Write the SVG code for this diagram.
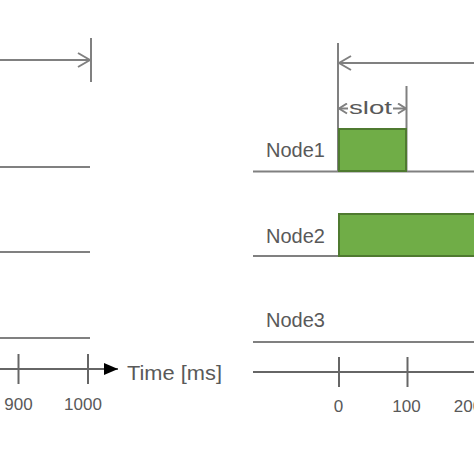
<svg xmlns="http://www.w3.org/2000/svg" width="474" height="474" viewBox="0 0 474 474">
<style>
.ln{stroke:#808080;stroke-width:2;fill:none}
.ax{stroke:#666;stroke-width:2;fill:none}
.lbl{font-family:"Liberation Sans",Arial,sans-serif;fill:#595959}
.slotbar{fill:#70ad47;stroke:#4f7a30;stroke-width:2}
</style>
<defs>
<marker id="open" viewBox="0 0 14 16" refX="13" refY="8" markerWidth="14" markerHeight="16" markerUnits="userSpaceOnUse" orient="auto-start-reverse">
<path d="M1,1 L13,8 L1,15" fill="none" stroke="#808080" stroke-width="2"/>
</marker>
<marker id="small" viewBox="0 0 10 12" refX="9" refY="6" markerWidth="10" markerHeight="12" markerUnits="userSpaceOnUse" orient="auto-start-reverse">
<path d="M1,1 L9,6 L1,11" fill="none" stroke="#808080" stroke-width="2"/>
</marker>
<marker id="fill" viewBox="0 0 14 12" refX="14" refY="6" markerWidth="14" markerHeight="12" markerUnits="userSpaceOnUse" orient="auto">
<path d="M0,0 L14,6 L0,12 Z" fill="#000"/>
</marker>
</defs>
<rect width="474" height="474" fill="#fff"/>
<g id="connectors">
<line class="ln" x1="0" y1="60" x2="90" y2="60" marker-end="url(#open)"/>
<line class="ln" x1="91" y1="38" x2="91" y2="82"/>
<line class="ln" x1="0" y1="167" x2="90" y2="167"/>
<line class="ln" x1="0" y1="252" x2="90" y2="252"/>
<line class="ln" x1="0" y1="338" x2="90" y2="338"/>
<line class="ax" x1="0" y1="369" x2="118" y2="369" marker-end="url(#fill)"/>
<line class="ax" x1="18.5" y1="354" x2="18.5" y2="384"/>
<line class="ax" x1="88" y1="354" x2="88" y2="384"/>
<line class="ln" x1="338" y1="43" x2="338" y2="171"/>
<line class="ln" x1="339" y1="63" x2="474" y2="63" marker-start="url(#open)"/>
<line class="ln" x1="406.5" y1="86" x2="406.5" y2="171"/>
<line class="ln" x1="339" y1="108.5" x2="348" y2="108.5" marker-start="url(#small)"/>
<line class="ln" x1="393" y1="108.5" x2="406" y2="108.5" marker-end="url(#small)"/>
<line class="ln" x1="253" y1="171.5" x2="474" y2="171.5"/>
<line class="ln" x1="253" y1="256" x2="474" y2="256"/>
<line class="ln" x1="253" y1="342" x2="474" y2="342"/>
<line class="ax" x1="253" y1="372" x2="474" y2="372"/>
<line class="ax" x1="339" y1="357" x2="339" y2="387"/>
<line class="ax" x1="407.5" y1="357" x2="407.5" y2="387"/>
</g>
<g id="node1">
<rect class="slotbar" x="339" y="129" width="67" height="42"/>
<text class="lbl" x="266" y="157" font-size="20">Node1</text>
</g>
<g id="slot">
<text class="lbl" x="349" y="114" font-size="19" textLength="43" lengthAdjust="spacingAndGlyphs">slot</text>
</g>
<g id="node2">
<rect class="slotbar" x="339" y="214" width="140" height="42"/>
<text class="lbl" x="266" y="242.5" font-size="20">Node2</text>
</g>
<g id="node3">
<text class="lbl" x="266" y="326.5" font-size="20">Node3</text>
</g>
<g id="axis-labels" class="lbl" font-size="17" text-anchor="middle">
<text x="18.5" y="410">900</text>
<text x="83" y="410">1000</text>
<text x="338.5" y="411.5">0</text>
<text x="406.5" y="411.5">100</text>
<text x="468" y="411.5">200</text>
</g>
<text class="lbl" x="127" y="380" font-size="21" textLength="95" lengthAdjust="spacingAndGlyphs">Time [ms]</text>
</svg>
